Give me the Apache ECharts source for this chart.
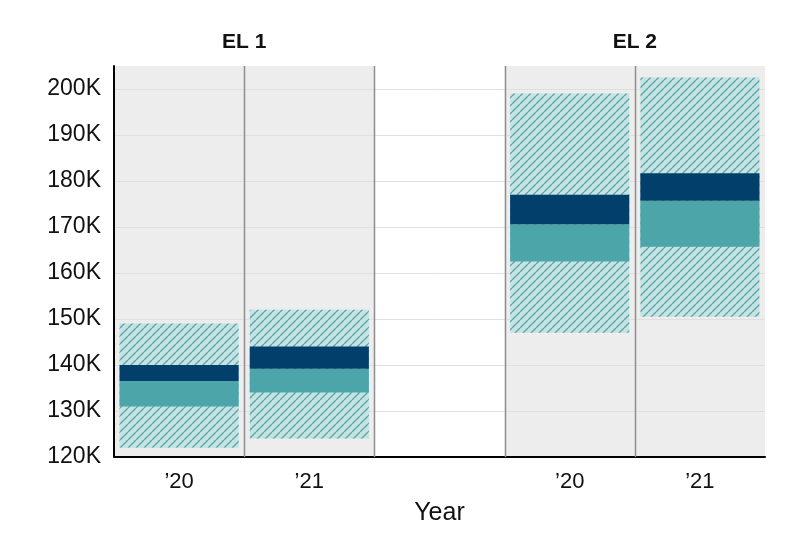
<!DOCTYPE html>
<html>
<head>
<meta charset="utf-8">
<script src="https://cdn.jsdelivr.net/npm/echarts@6/dist/echarts.min.js"></script>
<style>html,body{margin:0;padding:0;background:#fff}#c{width:800px;height:535px}</style>
</head>
<body>
<div id="c"></div>
<script>
// ---- data ----
var categories = ["’20", "’21", "", "’20", "’21"];
var groupNames = ["EL 1", "EL 2"];
var groupCenters = [1, 4]; // in slot units on the top axis (0..5)
var hatchLow  = [122, 124, null, 147, 150.5];
var hatchHigh = [149, 152, null, 199, 202.5];
var tealLow   = [131, 134, null, 162.5, 165.7];
var midValue  = [136.5, 139.2, null, 170.6, 175.7];
var navyHigh  = [140, 144, null, 177, 181.7];
var yTicks = [120, 130, 140, 150, 160, 170, 180, 190, 200];

var FONT = 'Liberation Sans, Arial, sans-serif';

// ---- hatch pattern ----
function makeHatch() {
  var s = 8;
  var cv = document.createElement('canvas');
  cv.width = s; cv.height = s;
  var ctx = cv.getContext('2d');
  ctx.fillStyle = '#c8e2e2';
  ctx.fillRect(0, 0, s, s);
  ctx.strokeStyle = '#56aaae';
  ctx.lineWidth = 1.45;
  [-s, 0, s].forEach(function (k) {
    ctx.beginPath();
    ctx.moveTo(k, s);
    ctx.lineTo(k + s, 0);
    ctx.stroke();
  });
  return cv;
}
var hatch = makeHatch();

var YMIN = 120, YMAX = 205;

var boxData = categories.map(function (c, i) {
  return [i, hatchLow[i], hatchHigh[i], tealLow[i], midValue[i], navyHigh[i]];
}).filter(function (d) { return d[1] != null; });

var bgData = categories.map(function (c, i) { return [i, c === "" ? 0 : 1]; });
var gridData = yTicks.map(function (v) { return [0, v]; });

var chart = echarts.init(document.getElementById('c'));
chart.setOption({
  animation: false,
  backgroundColor: '#ffffff',
  grid: { left: 114, right: 35, top: 66, bottom: 78 },
  xAxis: [{
    type: 'category',
    data: categories,
    boundaryGap: true,
    name: 'Year',
    nameLocation: 'middle',
    nameGap: 44,
    nameTextStyle: { fontSize: 25, color: '#111', fontFamily: FONT },
    axisLine: { show: true, lineStyle: { color: '#000', width: 2 } },
    axisTick: { show: false },
    axisLabel: { fontSize: 22, color: '#111', margin: 14, fontFamily: FONT },
    splitLine: { show: false }
  }, {
    type: 'value',
    position: 'top',
    min: 0, max: 5,
    axisLine: { show: false },
    axisTick: { show: false },
    splitLine: { show: false },
    axisLabel: {
      customValues: groupCenters,
      formatter: function (v) {
        var k = groupCenters.indexOf(v);
        return k >= 0 ? groupNames[k] : '';
      },
      fontSize: 21, fontWeight: 'bold', color: '#111', margin: 13,
      fontFamily: FONT
    }
  }],
  yAxis: {
    type: 'value',
    min: YMIN, max: YMAX, interval: 10,
    axisLine: { show: true, lineStyle: { color: '#000', width: 2 } },
    axisTick: { show: false },
    axisLabel: {
      customValues: yTicks,
      formatter: function (v) { return v + 'K'; },
      fontSize: 23, color: '#111', margin: 13,
      fontFamily: FONT
    },
    splitLine: { show: false }
  },
  series: [{
    type: 'custom',
    z: -1,
    silent: true,
    data: bgData,
    renderItem: function (params, api) {
      var i = api.value(0);
      var filled = api.value(1);
      var w = api.size([1, 0])[0];
      var top = api.coord([i, YMAX]);
      var bot = api.coord([i, YMIN]);
      var x0 = top[0] - w / 2;
      var children = [];
      if (filled) {
        children.push({ type: 'rect', shape: { x: x0, y: top[1], width: w, height: bot[1] - top[1] }, style: { fill: '#ecedec' } });
      }
      return { type: 'group', children: children };
    }
  }, {
    type: 'custom',
    z: 0,
    silent: true,
    data: gridData,
    renderItem: function (params, api) {
      var cs = params.coordSys;
      var p = api.coord([0, api.value(1)]);
      var y = Math.round(p[1]) + 0.5;
      return { type: 'line', shape: { x1: cs.x, y1: y, x2: cs.x + cs.width, y2: y }, style: { stroke: '#dfdfdf', lineWidth: 1 } };
    }
  }, {
    type: 'custom',
    z: 1,
    silent: true,
    data: bgData,
    renderItem: function (params, api) {
      var i = api.value(0);
      if (i === 0) return { type: 'group', children: [] };
      var w = api.size([1, 0])[0];
      var top = api.coord([i, YMAX]);
      var bot = api.coord([i, YMIN]);
      var x0 = Math.round(top[0] - w / 2) + 0.5;
      return { type: 'line', shape: { x1: x0, y1: top[1], x2: x0, y2: bot[1] }, style: { stroke: '#8e8e8e', lineWidth: 1.5 } };
    }
  }, {
    type: 'custom',
    z: 3,
    data: boxData,
    renderItem: function (params, api) {
      var i = api.value(0);
      var w = api.size([1, 0])[0] * 0.915;
      function rect(lo, hi, fill) {
        var a = api.coord([i, hi]);
        var b = api.coord([i, lo]);
        return { type: 'rect', shape: { x: a[0] - w / 2, y: a[1], width: w, height: b[1] - a[1] }, style: { fill: fill } };
      }
      return {
        type: 'group',
        children: [
          rect(api.value(1), api.value(2), { image: hatch, repeat: 'repeat' }),
          rect(api.value(3), api.value(4), '#4ba5a9'),
          rect(api.value(4), api.value(5), '#023f6b')
        ]
      };
    }
  }]
});
</script>
</body>
</html>
